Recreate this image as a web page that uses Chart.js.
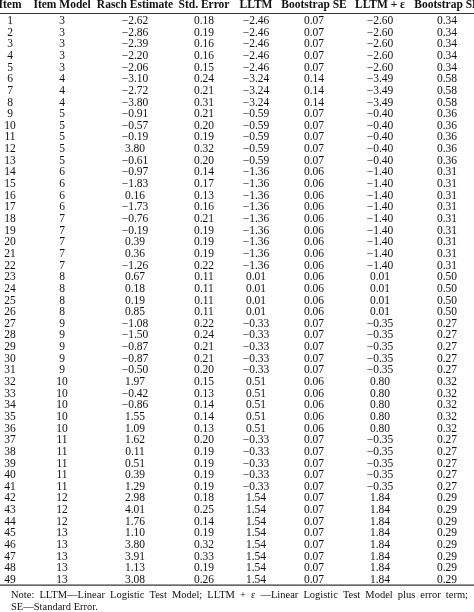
<!DOCTYPE html>
<html><head><meta charset="utf-8">
<script src="https://cdn.jsdelivr.net/npm/chart.js@4"></script>
<style>html,body{margin:0;padding:0;background:#fff}#w{width:474px;height:612px}</style>
</head><body><div id="w"><canvas id="c"></canvas></div>
<script>
const headers = ["Item","Item Model","Rasch Estimate","Std. Error","LLTM","Bootstrap SE","LLTM + ε","Bootstrap SE"];
const items = Array.from({length:49},(_, i)=>i+1);
const itemModel = [3,3,3,3,3,4,4,4,5,5,5,5,5,6,6,6,6,7,7,7,7,7,8,8,8,8,9,9,9,9,9,10,10,10,10,10,11,11,11,11,11,12,12,12,13,13,13,13,13];
const rasch = [-2.62,-2.86,-2.39,-2.20,-2.06,-3.10,-2.72,-3.80,-0.91,-0.57,-0.19,3.80,-0.61,-0.97,-1.83,0.16,-1.73,-0.76,-0.19,0.39,0.36,-1.26,0.67,0.18,0.19,0.85,-1.08,-1.50,-0.87,-0.87,-0.50,1.97,-0.42,-0.86,1.55,1.09,1.62,0.11,0.51,0.39,1.29,2.98,4.01,1.76,1.10,3.80,3.91,1.13,3.08];
const stdErr = [0.18,0.19,0.16,0.16,0.15,0.24,0.21,0.31,0.21,0.20,0.19,0.32,0.20,0.14,0.17,0.13,0.16,0.21,0.19,0.19,0.19,0.22,0.11,0.11,0.11,0.11,0.22,0.24,0.21,0.21,0.20,0.15,0.13,0.14,0.14,0.13,0.20,0.19,0.19,0.19,0.19,0.18,0.25,0.14,0.19,0.32,0.33,0.19,0.26];
const lltmByModel = {3:-2.46,4:-3.24,5:-0.59,6:-1.36,7:-1.36,8:0.01,9:-0.33,10:0.51,11:-0.33,12:1.54,13:1.54};
const bootByModel = {3:0.07,4:0.14,5:0.07,6:0.06,7:0.06,8:0.06,9:0.07,10:0.06,11:0.07,12:0.07,13:0.07};
const lltmEByModel = {3:-2.60,4:-3.49,5:-0.40,6:-1.40,7:-1.40,8:0.01,9:-0.35,10:0.80,11:-0.35,12:1.84,13:1.84};
const bootEByModel = {3:0.34,4:0.58,5:0.36,6:0.31,7:0.31,8:0.50,9:0.27,10:0.32,11:0.27,12:0.29,13:0.29};
const note1 = "Note: LLTM—Linear Logistic Test Model; LLTM + ε —Linear Logistic Test Model plus error term;";
const note2 = "SE—Standard Error.";

const colX = [10,62,135,204,256,314,380,447];
const fmt = v => (v<0?"−":"")+Math.abs(v).toFixed(2);
const rowsText = items.map((it,i)=>{const m=itemModel[i];return [String(it),String(m),fmt(rasch[i]),stdErr[i].toFixed(2),fmt(lltmByModel[m]),bootByModel[m].toFixed(2),fmt(lltmEByModel[m]),bootEByModel[m].toFixed(2)];});

const tablePlugin = {id:'tbl', afterDraw(chart){
  const ctx=chart.ctx, y=chart.scales.y;
  ctx.save(); ctx.fillStyle='#111'; ctx.textBaseline='middle'; ctx.textAlign='center';
  ctx.font='bold 11.5px "Liberation Serif", serif';
  headers.forEach((h,j)=>ctx.fillText(h,colX[j],y.getPixelForValue(-1.37)));
  ctx.font='11.5px "Liberation Serif", serif';
  rowsText.forEach((r,i)=>{const py=y.getPixelForValue(i);r.forEach((t,j)=>ctx.fillText(t,colX[j],py));});
  ctx.strokeStyle='#333'; ctx.lineWidth=1;
  const l1=y.getPixelForValue(-0.7); ctx.beginPath();ctx.moveTo(0,Math.round(l1)+0.5);ctx.lineTo(474,Math.round(l1)+0.5);ctx.stroke();
  const l2=y.getPixelForValue(48.45); ctx.lineWidth=1.2;ctx.beginPath();ctx.moveTo(0,l2);ctx.lineTo(474,l2);ctx.stroke();
  ctx.font='10.5px "Liberation Serif", serif'; ctx.textAlign='left';
  const words=note1.split(' '); const w=words.reduce((s,t)=>s+ctx.measureText(t).width,0);
  const gap=(468-11-w)/(words.length-1); let x=11; const ny=y.getPixelForValue(49.35);
  words.forEach(t=>{ctx.fillText(t,x,ny);x+=ctx.measureText(t).width+gap;});
  ctx.fillText(note2,11,y.getPixelForValue(50.3));
  ctx.restore();
}};

new Chart(document.getElementById('c'),{
  type:'scatter',
  data:{datasets:[{data:rasch.map((v,i)=>({x:v,y:i})),pointRadius:0}]},
  options:{responsive:true,maintainAspectRatio:false,animation:false,
    layout:{padding:0},
    plugins:{legend:{display:false},tooltip:{enabled:false}},
    scales:{x:{display:false,min:-5,max:5},y:{display:false,reverse:true,min:-1.803,max:50.75}}},
  plugins:[tablePlugin]
});
</script></body></html>
